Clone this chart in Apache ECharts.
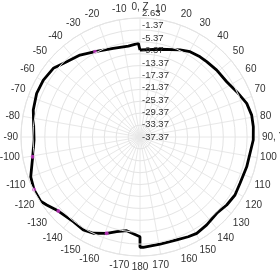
<!DOCTYPE html>
<html>
<head>
<meta charset="utf-8">
<script src="https://cdn.jsdelivr.net/npm/echarts@6/dist/echarts.min.js"></script>
<style>html,body{margin:0;padding:0;background:#fff;}#c{width:280px;height:280px;}</style>
</head>
<body>
<div id="c"></div>
<script>
// Pattern angles (degrees, 0 = Z, 90 = Y, negative = other side) and gains (dB)
const angleDeg = [0, 12.8, 24.7, 30.4, 36.8, 41.5, 48.9, 57.5, 64.9, 72.5, 78.9, 84.8, 91.5, 98.4, 105.6, 114.8, 121.4, 128.1, 134.8, 142.8, 149.5, 154.2, 160.4, 169.4, 178.3, 180, 180,
  -179, -171.9, -166.2, -160.9, -154.1, -148.6, -141.8, -132.2, -126.1, -122.9, -116.4, -110, -100.4, -91.6, -75.8, -67.1, -59.5, -51.6, -44.2, -36.2, -27.8, -16.8, -7.3, -1, 0, 0];
const gainDb = [-8.13, -7.12, -5.17, -4.13, -3.69, -3.55, -3.15, -2.82, -1.47, 0.24, 0.88, 0.88, 0.71, 0.01, -0.13, -0.33, 0.04, -0.33, -1.0, -0.26, 0.21, -0.13, -0.63, -0.77, -0.29, -0.29, -3.87,
  -3.87, -5.57, -4.6, -3.12, -1.4, -0.77, -1.13, -0.33, 1.42, 2.4, 2.4, 1.72, -0.7, -1.74, -0.36, 0.34, 0.34, -0.19, -2.04, -3.22, -4.97, -6.24, -6.55, -5.87, -5.7, -8.13];
// Highlighted sample points
const markAngles = [-27.8, -100.4, -116.4, -132.2, -160.9];
const markGains = [-4.97, -0.7, 2.4, -0.33, -3.12];
// Radial axis (dB)
const rMinDb = -37.37;
const rMaxDb = 2.63;
const rStepDb = 4;

const toAxisAngle = a => (a < 0 ? a + 360 : a);
const lineData = angleDeg.map((a, i) => [gainDb[i] - rMinDb, toAxisAngle(a)]);
const markData = markAngles.map((a, i) => [markGains[i] - rMinDb, toAxisAngle(a)]);

// label padding so angle labels sit roughly centred on a ring just outside the plot
const angleRich = {};
for (let v = 0; v <= 360; v += 10) {
  const t = v * Math.PI / 180, s = Math.sin(t), c = Math.cos(t);
  const pad = [0, 0, 0, 0];
  const vExtra = 4 * s * s, hExtra = 3 * c * c;
  if (c > 0.3) pad[2] = Math.max(0, 11 * c - 5 + vExtra);
  if (c < -0.3) pad[0] = Math.max(0, -11 * c - 5 + vExtra);
  if (s > 0.3) pad[3] = Math.max(0, 11 * s - 8 + hExtra);
  if (s < -0.3) pad[1] = Math.max(0, -11 * s - 8 + hExtra);
  angleRich['a' + v] = {padding: pad, fontSize: 10, color: '#333', fontFamily: 'Liberation Sans'};
}
const radiusRich = {};
for (let v = 0; v <= 40; v += rStepDb) {
  radiusRich['r' + v] = {padding: [0, 0, 9 * v / 40, 0], fontSize: 9.5, color: '#333', fontFamily: 'Liberation Sans'};
}
const angleText = v => v === 0 ? '0, Z' : v === 90 ? '90, Y' : (v > 180 ? String(v - 360) : String(v));

const chart = echarts.init(document.getElementById('c'), null, {renderer: 'canvas'});
chart.setOption({
  animation: false,
  backgroundColor: '#fff',
  polar: {center: [140, 137], radius: 119},
  angleAxis: {
    type: 'value', min: 0, max: 360, interval: 10,
    startAngle: 90, clockwise: true,
    axisLine: {show: true, lineStyle: {color: '#e4e4e4', width: 1}},
    axisTick: {show: false},
    splitLine: {show: true, lineStyle: {color: '#e8e8e8', width: 1}},
    axisLabel: {
      margin: 0, color: '#333', fontSize: 10, fontFamily: 'Liberation Sans',
      overflow: 'none', hideOverlap: false, rich: angleRich,
      formatter: v => v === 360 ? '' : '{a' + v + '|' + angleText(v) + '}'
    }
  },
  radiusAxis: {
    type: 'value', min: 0, max: rMaxDb - rMinDb, interval: rStepDb,
    axisLine: {show: false}, axisTick: {show: false},
    splitLine: {show: true, lineStyle: {color: '#e4e4e4', width: 1}},
    axisLabel: {
      showMinLabel: true, showMaxLabel: true,
      align: 'left', margin: -2, color: '#333', fontSize: 9.5, fontFamily: 'Liberation Sans',
      rich: radiusRich,
      formatter: v => '{r' + Math.round(v) + '|' + (v + rMinDb).toFixed(2) + '}'
    },
    z: 10
  },
  series: [
    {type: 'line', coordinateSystem: 'polar', data: lineData, showSymbol: false, symbol: 'none',
     lineStyle: {color: '#000', width: 2.8}, z: 2},
    {type: 'scatter', coordinateSystem: 'polar', data: markData, symbolSize: 4,
     itemStyle: {color: '#d23cd2'}, z: 3}
  ]
});
</script>
</body>
</html>
